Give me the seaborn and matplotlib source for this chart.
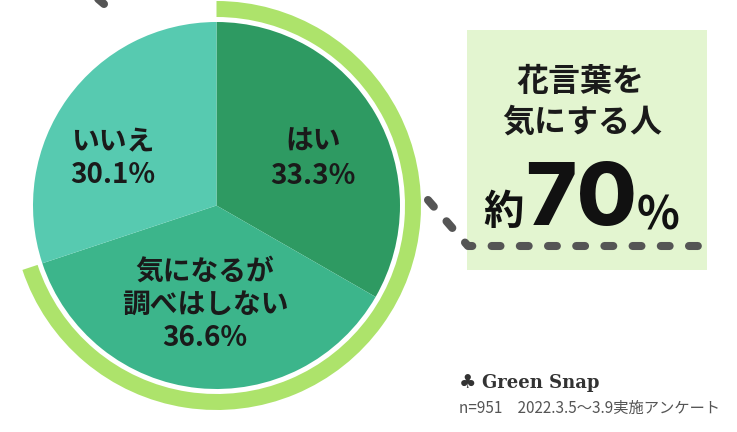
import matplotlib
matplotlib.use("Agg")
import matplotlib.pyplot as plt
import seaborn as sns
from matplotlib.patches import Rectangle

# ---- data ----
categories = ["はい", "気になるが\n調べはしない", "いいえ"]
shares = [33.3, 36.6, 30.1]
share_labels = ["33.3%", "36.6%", "30.1%"]
highlight_total = shares[0] + shares[1]          # ≈ 70%
headline_lines = ["花言葉を", "気にする人"]
headline_prefix = "約"
headline_value = "70"
headline_unit = "%"
brand = "Green Snap"
footnote = "n=951　2022.3.5〜3.9実施アンケート"

sns.set_theme(style="white")
plt.rcParams['font.family'] = ['Noto Sans CJK JP', 'DejaVu Sans']

W, H = 737, 432
fig = plt.figure(figsize=(W / 100, H / 100), dpi=100)
ax = fig.add_axes([0, 0, 1, 1])

pie_colors = ["#2E9A62", "#3CB58B", "#57CAB0"]
ring_color = "#ADE36B"
cx, cy, R = 216.5, H - 205.5, 183.5

# main pie
ax.pie(shares, colors=pie_colors, startangle=90, counterclock=False,
       center=(cx, cy), radius=R, wedgeprops=dict(linewidth=0))
# highlight ring around the "はい" + "気になるが" part
ax.pie([highlight_total, 100 - highlight_total], colors=[ring_color, "none"],
       startangle=90, counterclock=False, center=(cx, cy), radius=R + 21,
       wedgeprops=dict(width=16, linewidth=0))

ax.set_xlim(0, W)
ax.set_ylim(0, H)
ax.set_aspect('auto')
ax.axis('off')

# labels in wedges (pixel offsets from figure top)
label_pos = [(313, [142, 176]), (205, [272, 305, 338]), (113, [142, 175])]
for (x, ys), cat, pct in zip(label_pos, categories, share_labels):
    lines = cat.split("\n") + [pct]
    for y, t in zip(ys, lines):
        ax.text(x, H - y, t, ha="center", va="center", fontsize=20,
                fontweight="bold", color="#1a1a1a")

# callout box
ax.add_patch(Rectangle((467, H - 270), 240, 240, facecolor="#E3F5D0",
                       edgecolor="none", zorder=1))
ax.text(581, H - 82, headline_lines[0], ha="center", va="center",
        fontsize=23, fontweight="bold", color="#1a1a1a", zorder=3)
ax.text(582, H - 123, headline_lines[1], ha="center", va="center",
        fontsize=23, fontweight="bold", color="#1a1a1a", zorder=3)
ax.text(503, H - 213, headline_prefix, ha="center", va="center",
        fontsize=29, fontweight="bold", color="#111111", zorder=3)
ax.text(581, H - 203, headline_value, ha="center", va="center",
        fontsize=63, fontweight="heavy", color="#111111", zorder=3,
        family=['Inter', 'DejaVu Sans'])
ax.text(658, H - 216, headline_unit, ha="center", va="center",
        fontsize=32, fontweight="bold", color="#111111", zorder=3)

# dashed leader line
ax.plot([428, 468, 702], [H - 200, H - 246, H - 246], color="#555555",
        linewidth=5.8, linestyle=(0, (1.1, 2.4)), dash_capstyle="round",
        solid_capstyle="round", zorder=4)
ax.plot([97, 104], [H + 2, H - 4], color="#555555", linewidth=5.8,
        solid_capstyle="round", zorder=4)

# footer
ax.text(459, H - 383, "♣", ha="left", va="center", fontsize=14,
        color="#333333", family=['DejaVu Sans'])
ax.text(482, H - 383, brand, ha="left", va="center", fontsize=13,
        fontweight="bold", color="#333333", family=['DejaVu Serif'])
ax.text(459, H - 408, footnote, ha="left", va="center", fontsize=11,
        color="#555555")

fig.savefig("out.png", dpi=100)
